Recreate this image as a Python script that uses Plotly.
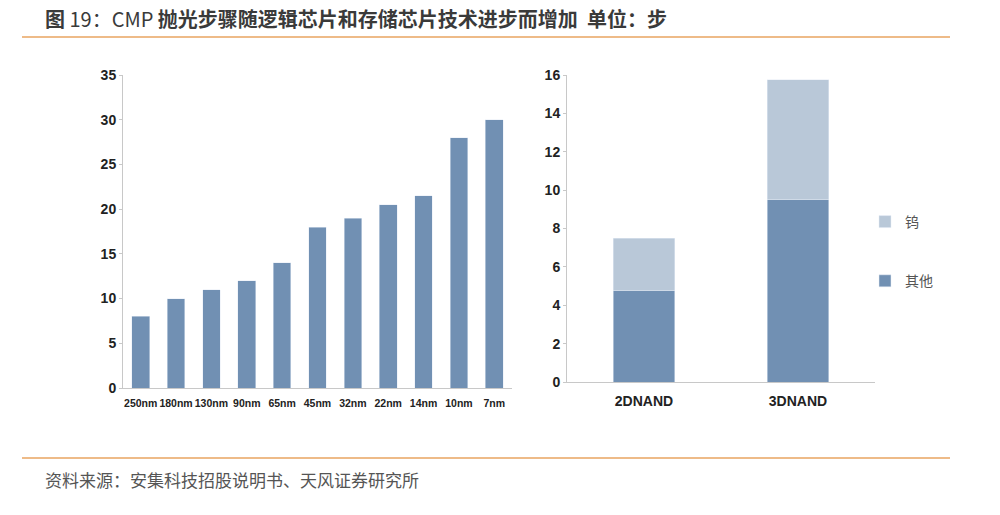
import plotly.graph_objects as go

nodes = ["250nm", "180nm", "130nm", "90nm", "65nm", "45nm", "32nm", "22nm", "14nm", "10nm", "7nm"]
logic_steps = [8, 10, 11, 12, 14, 18, 19, 20.5, 21.5, 28, 30]

nand_types = ["2DNAND", "3DNAND"]
other_steps = [4.75, 9.5]
tungsten_steps = [2.75, 6.25]

title_text = "<b>图</b> 19：CMP <b>抛光步骤随逻辑芯片和存储芯片技术进步而增加  单位：步</b>"
source_text = "资料来源：安集科技招股说明书、天风证券研究所"

W, H = 1000, 515
EFF_H = 499
OFF = 8
def px(x): return x / W
def py(y): return 1 - (y - OFF) / EFF_H

dark = "#7190b3"
light = "#b9c8d8"
tickfont = dict(family="Liberation Sans Narrow, Arial Narrow, Liberation Sans, sans-serif",
                size=14, color="#222", weight="bold")

fig = go.Figure()
fig.add_trace(go.Bar(x=nodes, y=logic_steps, marker_color=dark, showlegend=False,
                     xaxis="x", yaxis="y"))
fig.add_trace(go.Bar(x=nand_types, y=other_steps, name="其他", marker_color=dark,
                     xaxis="x2", yaxis="y2", legendgroup="b", legendrank=2, width=0.4))
fig.add_trace(go.Bar(x=nand_types, y=tungsten_steps, name="钨", marker_color=light,
                     xaxis="x2", yaxis="y2", legendgroup="a", legendrank=1, width=0.4))

axis_line = dict(showline=True, linecolor="#c8c8c8", linewidth=1, showgrid=False, zeroline=False)

fig.update_layout(
    width=W, height=H,
    margin=dict(l=0, r=0, t=0, b=0),
    paper_bgcolor="white", plot_bgcolor="white",
    barmode="stack",
    bargap=0.5,
    xaxis=dict(domain=[px(123), px(512)], anchor="y", tickangle=0, ticklabelstandoff=5,
               tickfont=dict(tickfont, size=10.5), ticks="", **axis_line),
    yaxis=dict(domain=[py(388), py(75)], anchor="x", range=[0, 35], dtick=5,
               tickfont=tickfont, ticks="outside", ticklen=3, tickcolor="#c8c8c8", **axis_line),
    xaxis2=dict(domain=[px(567), px(875)], anchor="y2", tickangle=0, ticklabelstandoff=6,
                tickfont=dict(tickfont, size=14), ticks="", **axis_line),
    yaxis2=dict(domain=[py(382), py(75)], anchor="x2", range=[0, 16], dtick=2,
                tickfont=tickfont, ticks="outside", ticklen=3, tickcolor="#c8c8c8", **axis_line),
    legend=dict(x=px(865), y=py(206), xanchor="left", yanchor="top",
                traceorder="grouped", tracegroupgap=38,
                font=dict(family="Noto Sans CJK SC", size=14, color="#555"),
                bgcolor="rgba(0,0,0,0)"),
    font=dict(family="Noto Sans CJK SC, Liberation Sans, sans-serif"),
)

fig.add_annotation(text=title_text, x=px(43), y=py(18), xref="paper", yref="paper",
                   xanchor="left", yanchor="middle", showarrow=False,
                   font=dict(family="Noto Sans CJK SC, sans-serif", size=20, color="#3a3a3a"))
fig.add_annotation(text=source_text, x=px(43), y=py(479), xref="paper", yref="paper",
                   xanchor="left", yanchor="middle", showarrow=False,
                   font=dict(family="Noto Sans CJK SC, sans-serif", size=17, color="#555"))
fig.add_shape(type="line", xref="paper", yref="paper", x0=px(22), x1=px(950), y0=py(37), y1=py(37),
              line=dict(color="#e8a460", width=1.5))
fig.add_shape(type="line", xref="paper", yref="paper", x0=px(22), x1=px(950), y0=py(458), y1=py(458),
              line=dict(color="#e8a460", width=1.5))

fig.write_html("out.html")
